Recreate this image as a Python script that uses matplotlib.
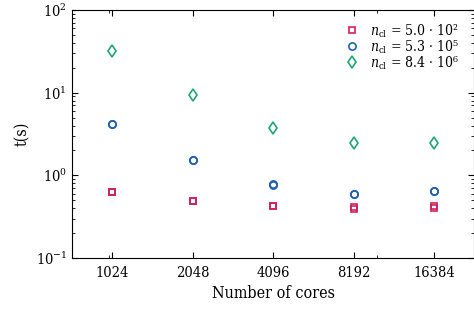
import matplotlib
matplotlib.use('Agg')
import matplotlib.pyplot as plt
from matplotlib.ticker import FixedLocator, LogLocator, NullFormatter

plt.rcParams['font.family'] = 'DejaVu Serif'
plt.rcParams['font.stretch'] = 'condensed'
plt.rcParams['mathtext.fontset'] = 'custom'
plt.rcParams['mathtext.rm'] = 'DejaVu Serif:stretch=condensed'
plt.rcParams['mathtext.it'] = 'DejaVu Serif:italic:stretch=condensed'
plt.rcParams['mathtext.bf'] = 'DejaVu Serif:bold:stretch=condensed'

# data
cores = [1024, 2048, 4096, 8192, 16384]
t_small = [0.63, 0.49, 0.427, 0.395, 0.405]
t_small_b = [0.63, 0.49, 0.427, 0.41, 0.42]
t_mid = [4.15, 1.53, 0.76, 0.596, 0.643]
t_mid_b = [4.15, 1.53, 0.78, 0.596, 0.643]
t_large = [32.0, 9.4, 3.74, 2.46, 2.46]
labels = [r'$n_{\rm cl}$ = 5.0 · 10²',
          r'$n_{\rm cl}$ = 5.3 · 10⁵',
          r'$n_{\rm cl}$ = 8.4 · 10⁶']

c_red = '#cf1f5c'
c_blue = '#1f60b4'
c_green = '#1ea672'

fig = plt.figure(figsize=(4.74, 3.22), dpi=100)
ax = fig.add_axes([71.7 / 474, 1 - 258 / 322, (474.5 - 71.7) / 474, 248 / 322])

kw = dict(linestyle='none', markerfacecolor='none', markeredgewidth=1.2)
ax.plot(cores, t_small, marker='s', ms=5, color=c_red, label=labels[0], **kw)
ax.plot(cores, t_small_b, marker='s', ms=5, color=c_red, **kw)
ax.plot(cores, t_mid, marker='o', ms=5.2, color=c_blue, label=labels[1], **kw)
ax.plot(cores, t_mid_b, marker='o', ms=5.2, color=c_blue, **kw)
ax.plot(cores, t_large, marker='d', ms=6.5, color=c_green, label=labels[2], **kw)

ax.set_xscale('log')
ax.set_yscale('log')
ax.set_xlim(2 ** 9.5, 2 ** 14.5)
ax.set_ylim(0.1, 100)

ax.xaxis.set_major_locator(FixedLocator(cores))
ax.set_xticklabels([str(c) for c in cores])
ax.xaxis.set_minor_locator(LogLocator(base=10, subs=(1.0,)))
ax.xaxis.set_minor_formatter(NullFormatter())

ax.tick_params(which='both', direction='in', top=True, right=True, labelsize=10.5)
ax.tick_params(which='major', length=4, width=0.8)
ax.tick_params(which='minor', length=2, width=0.6)
ax.tick_params(axis='x', which='major', pad=6)
ax.tick_params(axis='y', which='major', pad=3.5)

ax.set_xlabel('Number of cores', fontsize=11.5, labelpad=3)
ax.set_ylabel('t(s)', fontsize=11.5, labelpad=3)

ax.legend(loc='upper right', frameon=False, numpoints=1, fontsize=10,
          handlelength=1.0, handletextpad=0.8, labelspacing=-0.1,
          borderaxespad=0.3, bbox_to_anchor=(0.985, 0.99))

fig.savefig('out.png', dpi=100)
